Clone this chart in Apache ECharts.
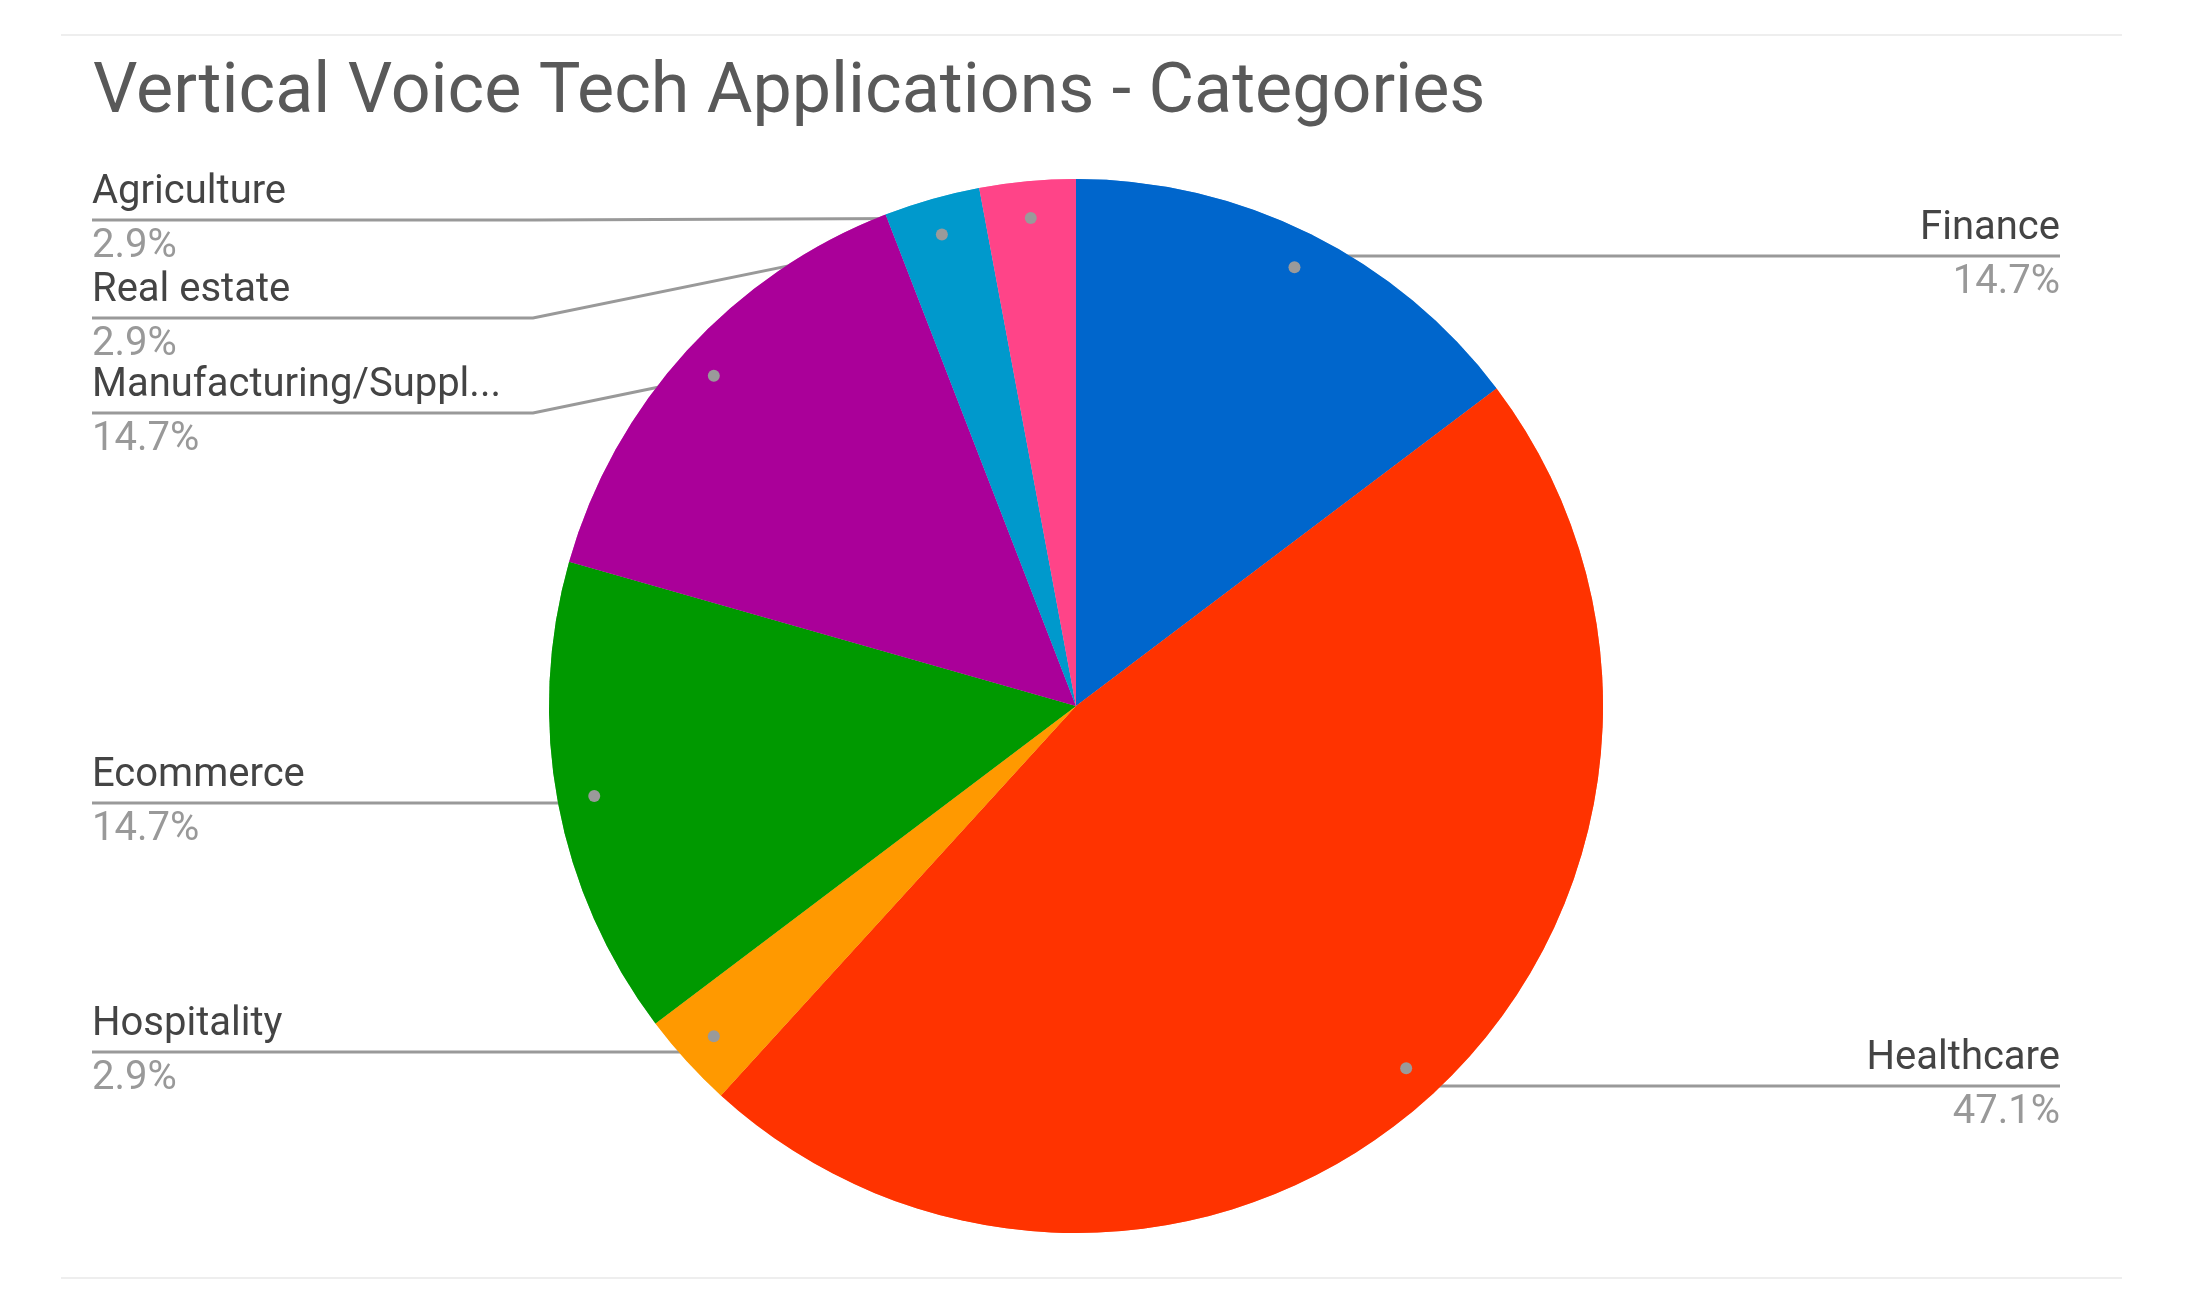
<!DOCTYPE html>
<html>
<head>
<meta charset="UTF-8" />
<script src="https://cdn.jsdelivr.net/npm/echarts@6/dist/echarts.min.js"></script>
<style>* { margin: 0; padding: 0; } body { background: #fff; }</style>
</head>
<body>
<div id="main" style="width: 2190px; height: 1306px;"></div>
<script>
var categories = ['Finance', 'Healthcare', 'Hospitality', 'Ecommerce', 'Manufacturing/Suppl...', 'Real estate', 'Agriculture'];
var counts = [5, 16, 1, 5, 5, 1, 1];
var colors = ['#0066cc', '#ff3300', '#ff9900', '#009900', '#aa0099', '#0099cc', '#ff4488'];
// label row (y of the underline) and side for each category
var labelY = [256, 1086, 1052, 803, 413, 318, 220];
var labelSide = ['right', 'right', 'left', 'left', 'left', 'left', 'left'];

var cx = 1076, cy = 706, R = 527;
var total = counts.reduce(function (a, b) { return a + b; }, 0);

function dotPoint(i) {
  var before = 0;
  for (var k = 0; k < i; k++) before += counts[k];
  var a = (before + counts[i] / 2) / total * Math.PI * 2;
  return [cx + 0.93 * R * Math.sin(a), cy - 0.93 * R * Math.cos(a)];
}

var items = categories.map(function (c, i) {
  return { name: c, value: counts[i], itemStyle: { color: colors[i] } };
});

var dots = categories.map(function (c, i) {
  var d = dotPoint(i);
  return { type: 'circle', z: 100, shape: { cx: d[0], cy: d[1], r: 6 }, style: { fill: '#9a9a9a' } };
});

var chart = echarts.init(document.getElementById('main'));
chart.setOption({
  title: {
    text: 'Vertical Voice Tech Applications - Categories',
    left: 88, top: 54,
    textStyle: { fontFamily: 'Roboto', fontSize: 70, fontWeight: 'normal', color: '#595959' }
  },
  graphic: [
    { type: 'line', shape: { x1: 61, y1: 35, x2: 2122, y2: 35 }, style: { stroke: '#eeeeee', lineWidth: 2 } },
    { type: 'line', shape: { x1: 61, y1: 1278, x2: 2122, y2: 1278 }, style: { stroke: '#eeeeee', lineWidth: 2 } }
  ].concat(dots),
  series: [{
    type: 'pie',
    center: [cx, cy],
    radius: R,
    startAngle: 90,
    animation: false,
    data: items,
    itemStyle: { borderColor: 'rgba(255,255,255,0.4)', borderWidth: 1 },
    label: { show: false },
    labelLine: { show: false }
  }, {
    type: 'pie',
    z: 10,
    center: [cx, cy],
    radius: R,
    startAngle: 90,
    animation: false,
    silent: true,
    data: items,
    itemStyle: { color: 'rgba(0,0,0,0)' },
    label: {
      formatter: function (p) { return '{n|' + p.name + '}\n{p|' + p.percent.toFixed(1) + '%}'; },
      rich: {
        n: { fontFamily: 'Roboto', fontSize: 40, color: '#444', lineHeight: 54 },
        p: { fontFamily: 'Roboto', fontSize: 40, color: '#999', lineHeight: 54 }
      }
    },
    labelLine: { show: true, lineStyle: { color: '#999', width: 3 } },
    labelLayout: function (params) {
      var i = params.dataIndex;
      var d = dotPoint(i);
      var y = labelY[i];
      var left = labelSide[i] === 'left';
      var endX = left ? 92 : 2060;
      var pts;
      if (left && i >= 4) {
        pts = [d, [533, y], [endX, y]];
      } else {
        pts = [d, [d[0], y], [endX, y]];
      }
      return {
        x: endX, y: y,
        align: left ? 'left' : 'right',
        verticalAlign: 'middle',
        labelLinePoints: pts
      };
    }
  }]
});
</script>
</body>
</html>
